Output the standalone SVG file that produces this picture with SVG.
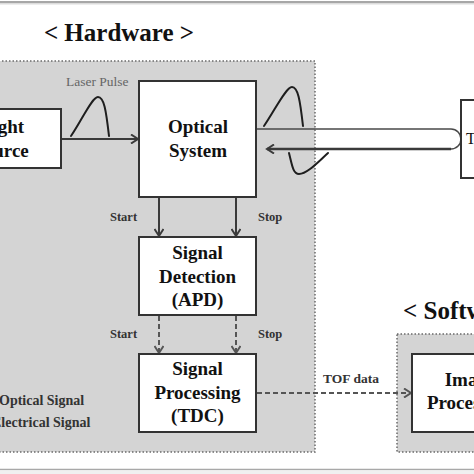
<svg xmlns="http://www.w3.org/2000/svg" width="474" height="474" viewBox="0 0 474 474">
<style>
.region{fill:#d4d4d4;stroke:#6a6a6a;stroke-width:1.5;stroke-dasharray:1.5 2}
.box{fill:#fff;stroke:#333;stroke-width:2}
.t{font-family:"Liberation Serif","Times New Roman",serif;font-weight:bold;fill:#111;text-anchor:middle}
.big{font-size:19px}
.title{font-size:25px}
.lbl{font-family:"Liberation Serif","Times New Roman",serif;font-weight:bold;font-size:12.5px;fill:#333}
.solid{fill:none;stroke:#3a3a3a;stroke-width:2}
.dash{fill:none;stroke:#555;stroke-width:2;stroke-dasharray:5 3}
.pulse{fill:none;stroke:#1e1e1e;stroke-width:2;stroke-linecap:round}
</style>
<defs>
<marker id="ah" markerWidth="10" markerHeight="10" refX="8" refY="5" orient="auto" markerUnits="userSpaceOnUse">
<path d="M1,0.5 L8,5 L1,9.5" fill="none" stroke="#3a3a3a" stroke-width="2"/>
</marker>
<marker id="ahd" markerWidth="10" markerHeight="10" refX="8" refY="5" orient="auto" markerUnits="userSpaceOnUse">
<path d="M1,0.5 L8,5 L1,9.5" fill="none" stroke="#555" stroke-width="2"/>
</marker>
</defs>
<rect x="0" y="0" width="474" height="474" fill="#fff"/>
<line x1="0" y1="2" x2="474" y2="2" stroke="#8a8a8a" stroke-width="1.5"/>
<line x1="0" y1="3.8" x2="474" y2="3.8" stroke="#dcdcdc" stroke-width="1.5"/>
<line x1="0" y1="469.5" x2="474" y2="469.5" stroke="#a8a8a8" stroke-width="1.5"/>
<rect x="0" y="470.5" width="474" height="3.5" fill="#f0f0f0"/>

<g id="hardware-region">
<rect class="region" x="-5" y="61" width="320" height="391"/>
<text class="t title" x="119" y="41">&lt; Hardware &gt;</text>
</g>
<g id="software-region">
<rect class="region" x="397" y="334" width="100" height="118"/>
<text class="t title" x="403" y="319" style="text-anchor:start">&lt; Software &gt;</text>
</g>

<g id="connectors">
<line class="solid" x1="61" y1="139" x2="138" y2="139" marker-end="url(#ah)"/>
<path d="M257,129 H451 A10,10 0 0 1 451,149" fill="none" stroke="#4a4a4a" stroke-width="1.5"/>
<line x1="451" y1="149" x2="267" y2="149" stroke="#3a3a3a" stroke-width="2.5" marker-end="url(#ah)"/>
<line class="solid" x1="159" y1="198" x2="159" y2="236" marker-end="url(#ah)"/>
<line class="solid" x1="236" y1="198" x2="236" y2="236" marker-end="url(#ah)"/>
<line class="dash" x1="159" y1="316" x2="159" y2="353" marker-end="url(#ahd)"/>
<line class="dash" x1="236" y1="316" x2="236" y2="353" marker-end="url(#ahd)"/>
<line class="dash" x1="257" y1="393" x2="411" y2="393" marker-end="url(#ahd)"/>
<path class="pulse" d="M71,136 C82,120 92,97 98,97 C104,97 106,110 109,136"/>
<path class="pulse" d="M264,126 C275,110 286,87 292,87 C298,87 300,100 303,126"/>
<path class="pulse" d="M289,153 C292,165 293,174 299,174 C307,174 318,162 328,153"/>
<text x="66" y="86" font-family="Liberation Serif, Times New Roman, serif" font-size="13.5" fill="#666">Laser Pulse</text>
<text class="lbl" x="110" y="221">Start</text>
<text class="lbl" x="258" y="221">Stop</text>
<text class="lbl" x="110" y="338">Start</text>
<text class="lbl" x="258" y="338">Stop</text>
<text class="lbl" x="323" y="383" style="font-size:13.5px">TOF data</text>
</g>

<g id="light-source">
<rect class="box" x="-10" y="109" width="71" height="59"/>
<text class="t big" x="2" y="133">Light</text>
<text class="t big" x="1" y="157">Source</text>
</g>
<g id="optical-system">
<rect class="box" x="139" y="81" width="117" height="116"/>
<text class="t big" x="198" y="133">Optical</text>
<text class="t big" x="198" y="157">System</text>
</g>
<g id="target">
<rect class="box" x="461" y="100" width="40" height="78"/>
<text x="466" y="144" font-family="Liberation Serif, Times New Roman, serif" font-size="16" fill="#111">Target</text>
</g>
<g id="signal-detection">
<rect class="box" x="139" y="237" width="117" height="78"/>
<text class="t big" x="197.5" y="259">Signal</text>
<text class="t big" x="197.5" y="283">Detection</text>
<text class="t big" x="197.5" y="306">(APD)</text>
</g>
<g id="signal-processing">
<rect class="box" x="139" y="354" width="117" height="78"/>
<text class="t big" x="197.5" y="375">Signal</text>
<text class="t big" x="197.5" y="399">Processing</text>
<text class="t big" x="197.5" y="422">(TDC)</text>
</g>
<g id="image-processing">
<rect class="box" x="412" y="354" width="117" height="78"/>
<text class="t big" x="470" y="386">Image</text>
<text class="t big" x="470" y="409">Processing</text>
</g>
<g id="legend">
<text class="lbl" x="-1" y="405" style="font-size:14px">Optical Signal</text>
<text class="lbl" x="-8" y="427" style="font-size:14px">Electrical Signal</text>
</g>
</svg>
